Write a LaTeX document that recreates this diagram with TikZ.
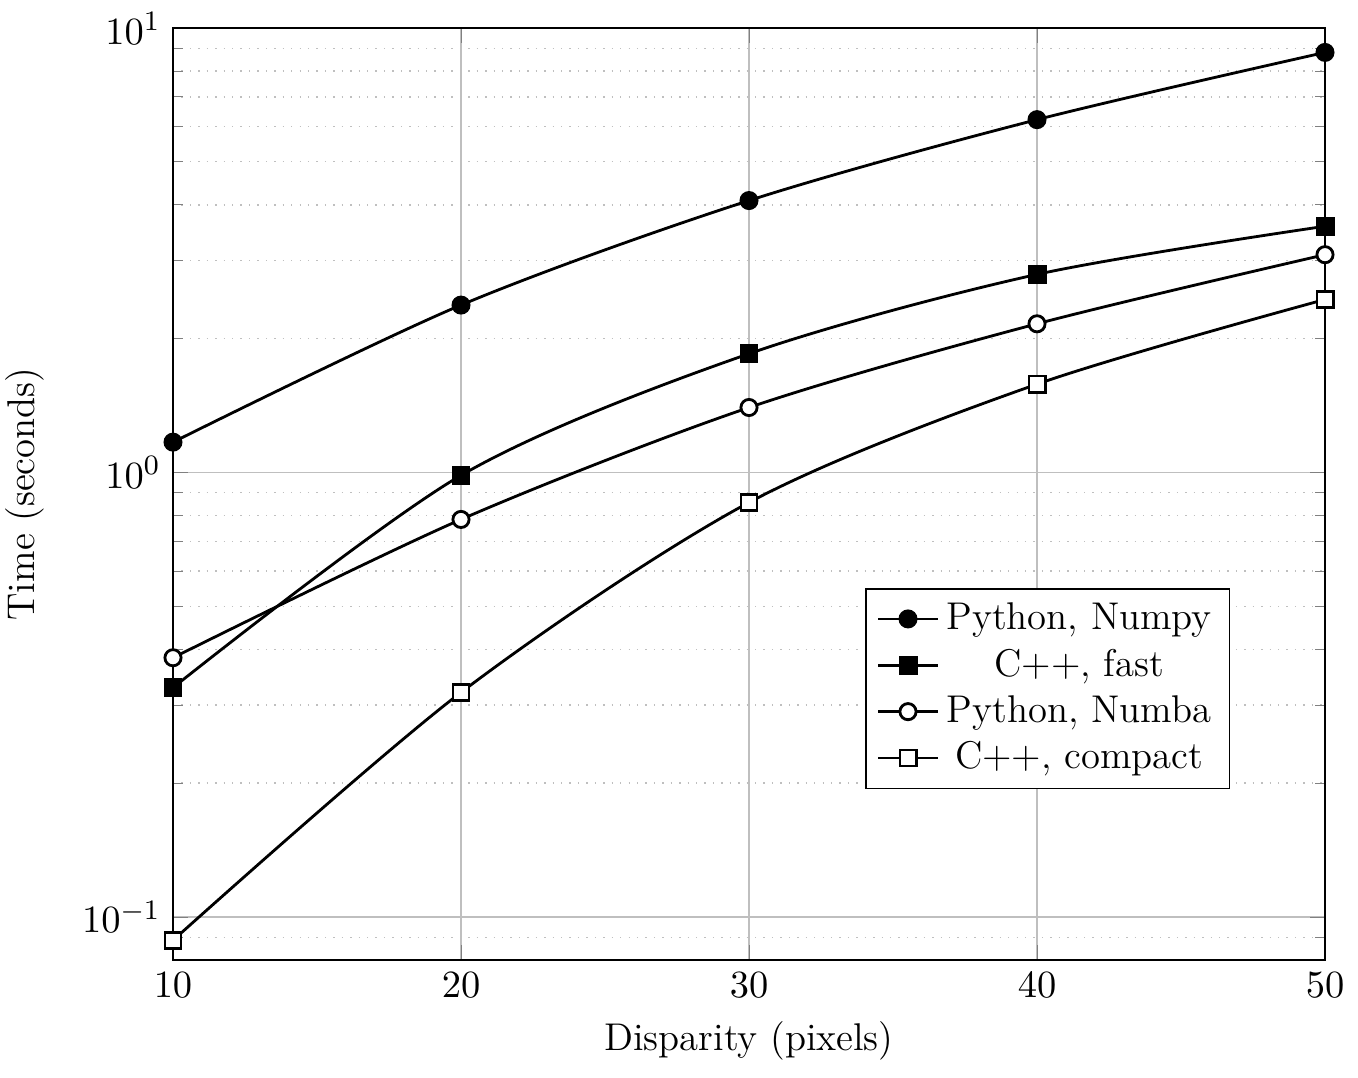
\documentclass[tikz,border=0pt]{standalone}
\usepackage{pgfplots}
\pgfplotsset{compat=1.18}
\begin{document}
\begin{tikzpicture}[font=\fontsize{11}{13}\selectfont]
\useasboundingbox (0,0) rectangle (13.58,10.78);
\begin{axis}[
  at={(1.73cm,1.18cm)}, anchor=south west,
  scale only axis, width=11.52cm, height=9.32cm,
  ymode=log, xmin=10, xmax=50, ymin=0.0800, ymax=10,
  xtick={10,20,30,40,50},
  grid=both, major grid style={gray!50, thin},
  minor y grid style={gray!50, dotted},
  minor x grid style={draw=none},
  xlabel={Disparity (pixels)}, ylabel={Time (seconds)},
  ylabel style={yshift=4pt},
  legend style={at={(0.601,0.399)}, anchor=north west, cells={align=center}},
  legend cell align=center,
  every axis plot/.append style={black, thick, smooth, mark size=2.3pt},
]
\addplot[mark=*] coordinates {(10,1.17)(20,2.38)(30,4.09)(40,6.22)(50,8.81)};
\addlegendentry{Python, Numpy}
\addplot[mark=square*] coordinates {(10,0.328)(20,0.985)(30,1.85)(40,2.79)(50,3.58)};
\addlegendentry{C++, fast}
\addplot[mark=*, mark options={fill=white}] coordinates {(10,0.383)(20,0.784)(30,1.40)(40,2.16)(50,3.09)};
\addlegendentry{Python, Numba}
\addplot[mark=square*, mark options={fill=white}] coordinates {(10,0.0886)(20,0.320)(30,0.856)(40,1.58)(50,2.45)};
\addlegendentry{C++, compact}
\end{axis}
\end{tikzpicture}
\end{document}
